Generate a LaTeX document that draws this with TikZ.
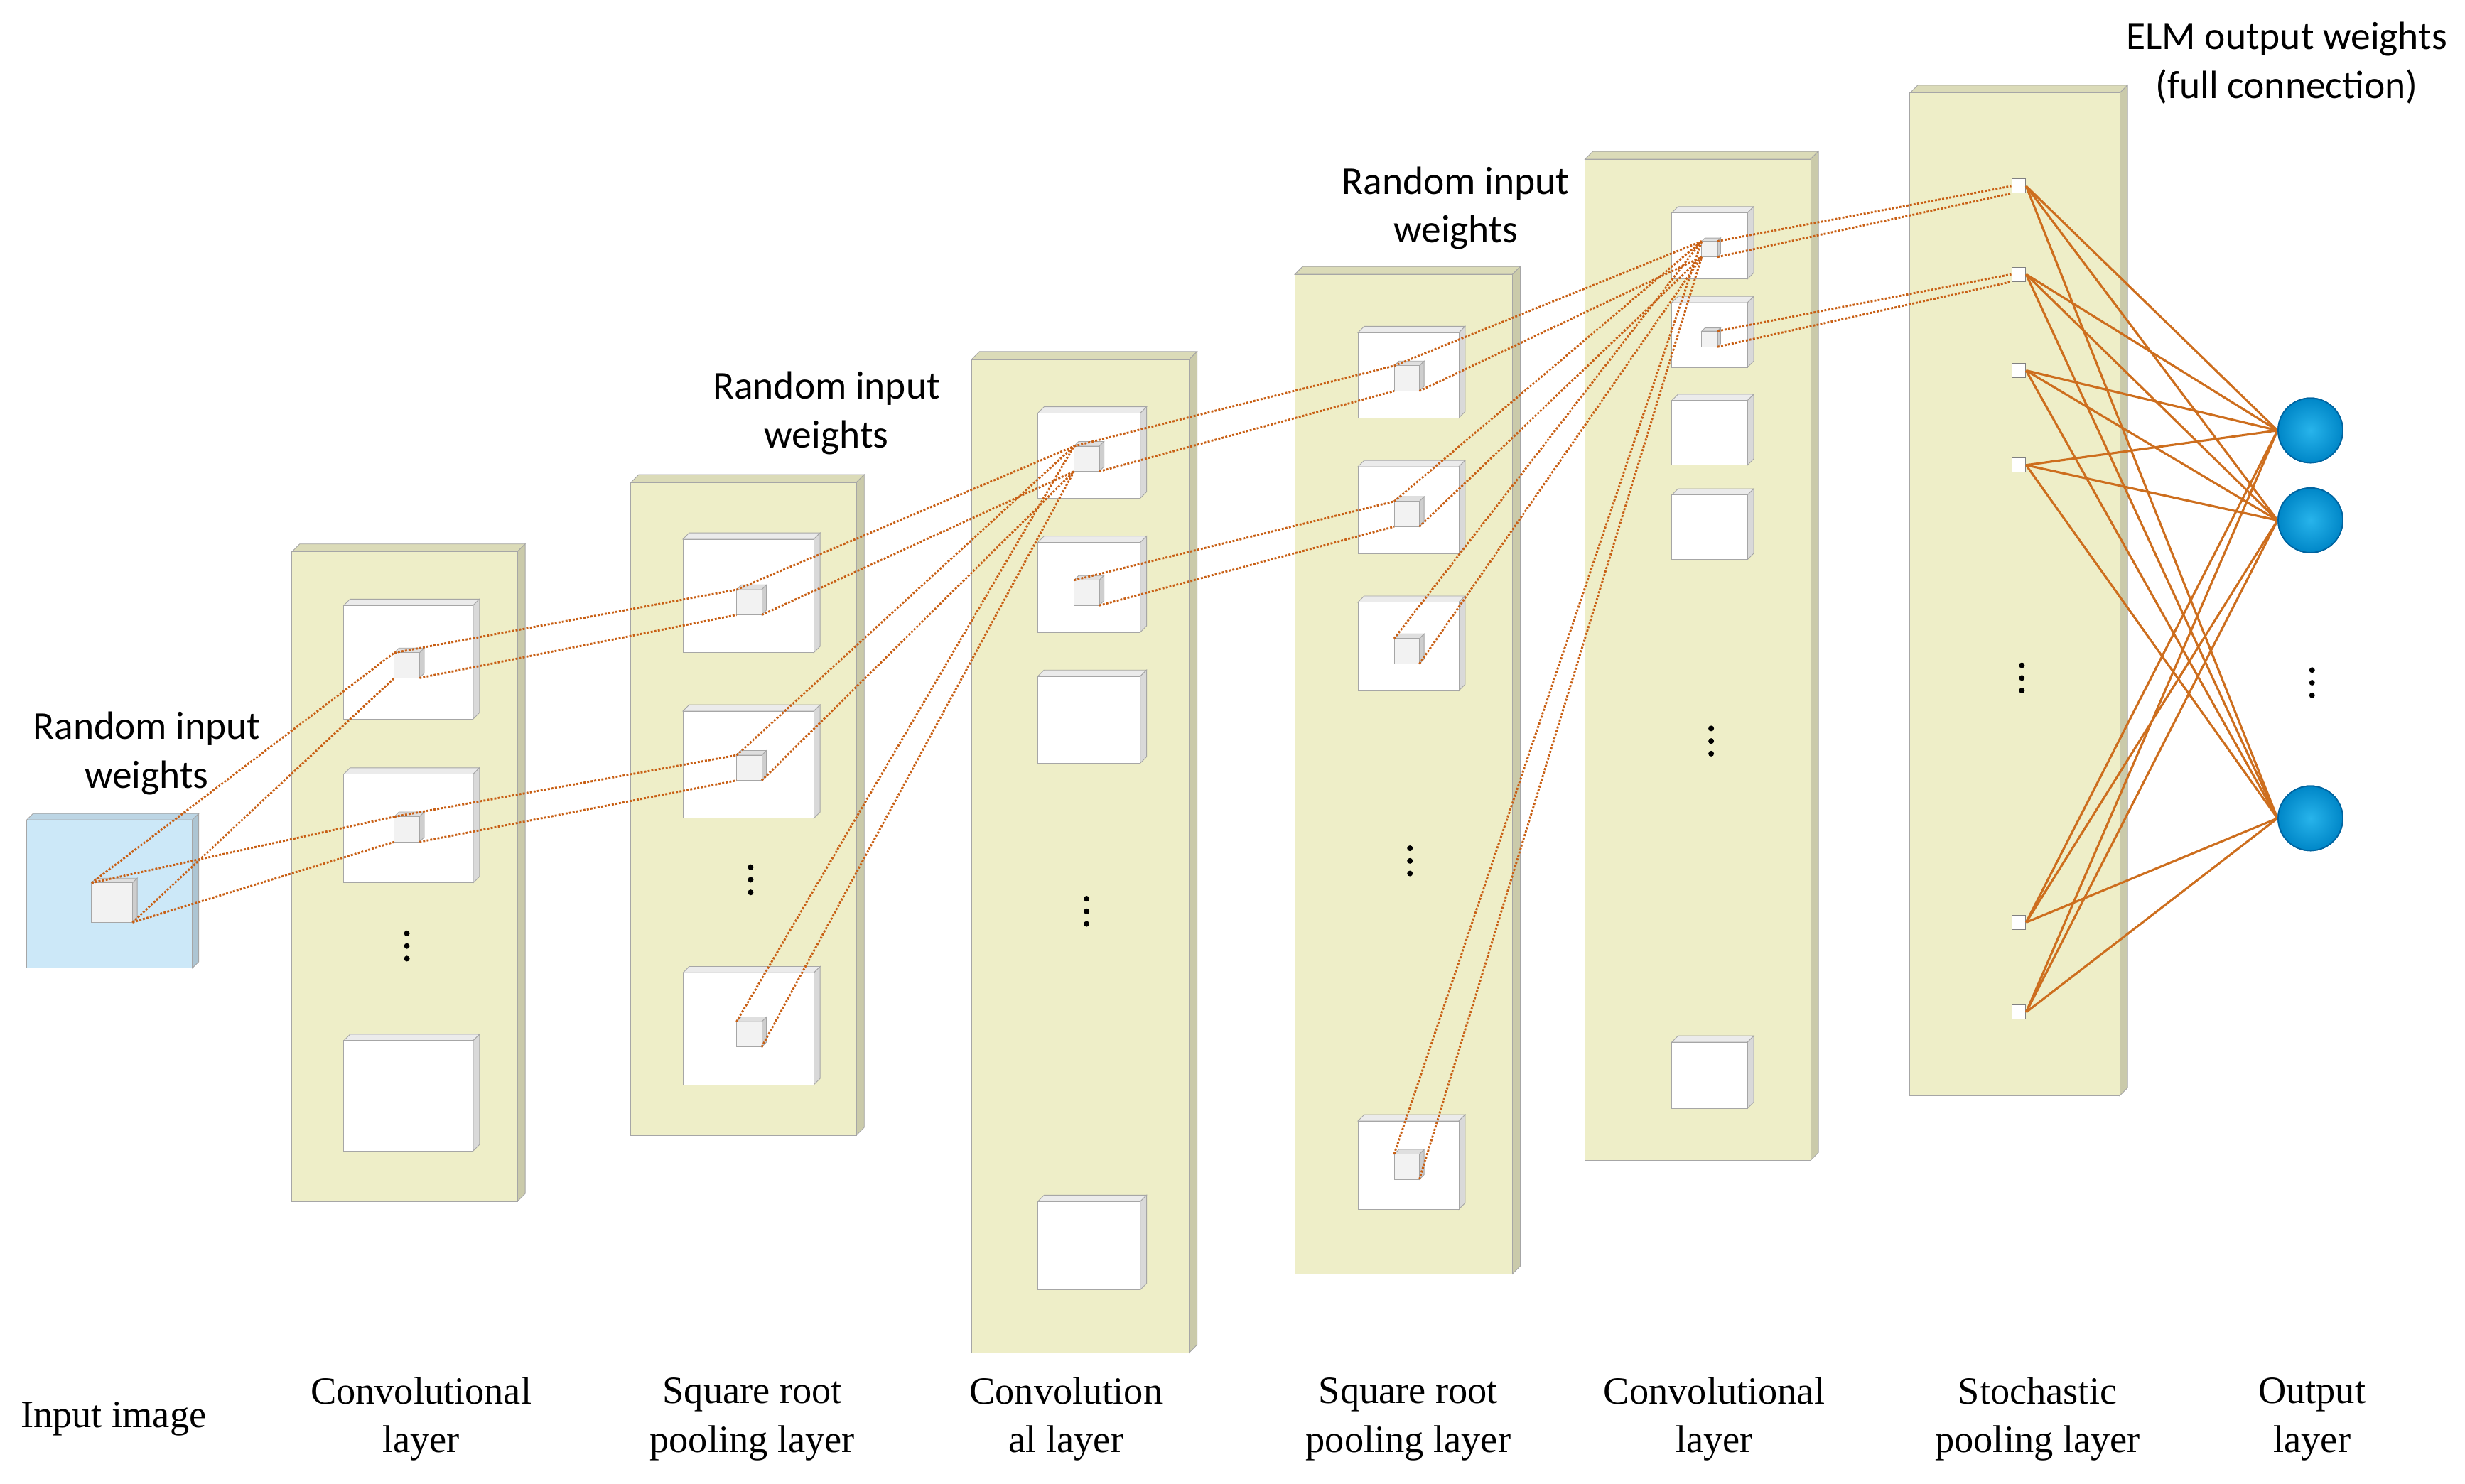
\documentclass[tikz,border=0pt]{standalone}
\usepackage{fontspec}
\setmainfont{Liberation Serif}
\newfontfamily\lab{Carlito}
\begin{document}
\begin{tikzpicture}[x=1pt,y=-1pt,
  dl/.style={draw={rgb,255:red,200;green,95;blue,20},densely dotted,line width=1.3pt},
  fl/.style={draw={rgb,255:red,205;green,110;blue,30},line width=1.4pt},
  bot/.style={align=center,font=\fontsize{24.5}{31}\selectfont},
  top/.style={align=center,font=\lab\fontsize{25}{31}\selectfont},
  ball/.style={circle,minimum size=41pt,inner sep=0pt,draw={rgb,255:red,0;green,100;blue,160},line width=0.8pt,inner color={rgb,255:red,40;green,180;blue,235},outer color={rgb,255:red,0;green,135;blue,200}}]
\definecolor{pan}{RGB}{238,238,200}
\definecolor{inb}{RGB}{204,232,248}
\newcommand{\bxd}[7]{%
  \filldraw[draw=gray!70,fill=#7!92!black] (#2,#3)--({#2+#6},{#3-#6})--({#4+#6},{#3-#6})--(#4,#3)--cycle;
  \filldraw[draw=gray!70,fill=#7!85!black] (#4,#3)--({#4+#6},{#3-#6})--({#4+#6},{#5-#6})--(#4,#5)--cycle;
  \filldraw[draw=gray!70,fill=#7] (#2,#3) rectangle (#4,#5);
  \coordinate (#1-nw) at (#2,#3); \coordinate (#1-se) at (#4,#5);
  \coordinate (#1-sw) at (#2,#5); \coordinate (#1-ne) at (#4,#3);}
\newcommand{\smc}[3]{\bxd{#1}{#2-8}{#3-8}{#2+8}{#3+8}{3}{white!90!gray}}
\newcommand{\vd}[2]{\foreach \k in {-8,0,8}{\fill (#1,#2+\k) circle (1.8pt);}}
\useasboundingbox (0,0) rectangle (1563,941);
% input
\bxd{in}{17}{520}{122}{614}{4}{inb}
\bxd{ic}{58}{560}{84}{585}{3}{white!90!gray}
% layer 1
\bxd{p1}{185}{350}{328}{762}{5}{pan}
\bxd{a1}{218}{384}{300}{456}{4}{white}
\bxd{a2}{218}{491}{300}{560}{4}{white}
\vd{258}{600}
\bxd{a3}{218}{660}{300}{730}{4}{white}
\smc{s11}{258}{422}\smc{s12}{258}{526}
% layer 2
\bxd{p2}{400}{306}{543}{720}{5}{pan}
\bxd{b1}{433}{342}{516}{414}{4}{white}
\bxd{b2}{433}{451}{516}{519}{4}{white}
\vd{476}{558}
\bxd{b3}{433}{617}{516}{688}{4}{white}
\smc{s21}{475}{382}\smc{s22}{475}{487}\smc{s23}{475}{656}
% layer 3
\bxd{p3}{616}{228}{754}{858}{5}{pan}
\bxd{c1}{658}{262}{723}{316}{4}{white}
\bxd{c2}{658}{344}{723}{401}{4}{white}
\bxd{c3}{658}{429}{723}{484}{4}{white}
\vd{689}{578}
\bxd{c4}{658}{762}{723}{818}{4}{white}
\smc{s31}{689}{291}\smc{s32}{689}{376}
% layer 4
\bxd{p4}{821}{174}{959}{808}{5}{pan}
\bxd{d1}{861}{211}{925}{265}{4}{white}
\bxd{d2}{861}{296}{925}{351}{4}{white}
\bxd{d3}{861}{382}{925}{438}{4}{white}
\vd{894}{546}
\bxd{d4}{861}{711}{925}{767}{4}{white}
\smc{s41}{892}{240}\smc{s42}{892}{326}\smc{s43}{892}{413}\smc{s44}{892}{740}
% layer 5
\bxd{p5}{1005}{101}{1148}{736}{5}{pan}
\bxd{e1}{1060}{135}{1108}{177}{4}{white}
\bxd{e2}{1060}{192}{1108}{233}{4}{white}
\bxd{e3}{1060}{254}{1108}{295}{4}{white}
\bxd{e4}{1060}{314}{1108}{355}{4}{white}
\vd{1085}{470}
\bxd{e5}{1060}{661}{1108}{703}{4}{white}
\bxd{s51}{1079}{153}{1089}{163}{2}{white!90!gray}
\bxd{s52}{1079}{210}{1089}{220}{2}{white!90!gray}
% layer 6
\bxd{p6}{1211}{59}{1344}{695}{5}{pan}
\foreach \n/\y in {1/118,2/174,3/235,4/295,5/585,6/642}{
  \node[draw=gray,fill=white,minimum size=9pt,inner sep=0pt] (q\n) at (1280,\y) {};}
\vd{1282}{430}
% outputs
\node[ball] (o1) at (1465,273) {};
\node[ball] (o2) at (1465,330) {};
\node[ball] (o3) at (1465,519) {};
\vd{1466}{433}
% dotted connections
\foreach \s/\t in {ic/s11,ic/s12,s11/s21,s12/s22,s21/s31,s22/s31,s23/s31,s31/s41,s32/s42,s41/s51,s42/s51,s43/s51,s44/s51}{
  \draw[dl] (\s-nw)--(\t-nw) (\s-se)--(\t-sw);}
\draw[dl] (s51-ne)--(q1.west) (s51-se)--(q1.south west);
\draw[dl] (s52-ne)--(q2.west) (s52-se)--(q2.south west);
% full connections
\foreach \a in {1,...,6}{\foreach \b in {1,2,3}{\draw[fl] (q\a.east)--(o\b.west);}}
\foreach \b in {1,2,3}{\node[ball] at (o\b) {};}
% labels
\node[top] at (93,478) {Random input\\weights};
\node[top] at (524,262) {Random input\\weights};
\node[top] at (923,132) {Random input\\weights};
\node[top] at (1450,40) {ELM output weights\\(full connection)};
\node[bot] at (72,900) {Input image};
\node[bot] at (267,900) {Convolutional\\layer};
\node[bot] at (477,900) {Square root\\pooling layer};
\node[bot] at (676,900) {Convolution\\al layer};
\node[bot] at (893,900) {Square root\\pooling layer};
\node[bot] at (1087,900) {Convolutional\\layer};
\node[bot] at (1292,900) {Stochastic\\pooling layer};
\node[bot] at (1466,900) {Output\\layer};
\end{tikzpicture}
\end{document}
